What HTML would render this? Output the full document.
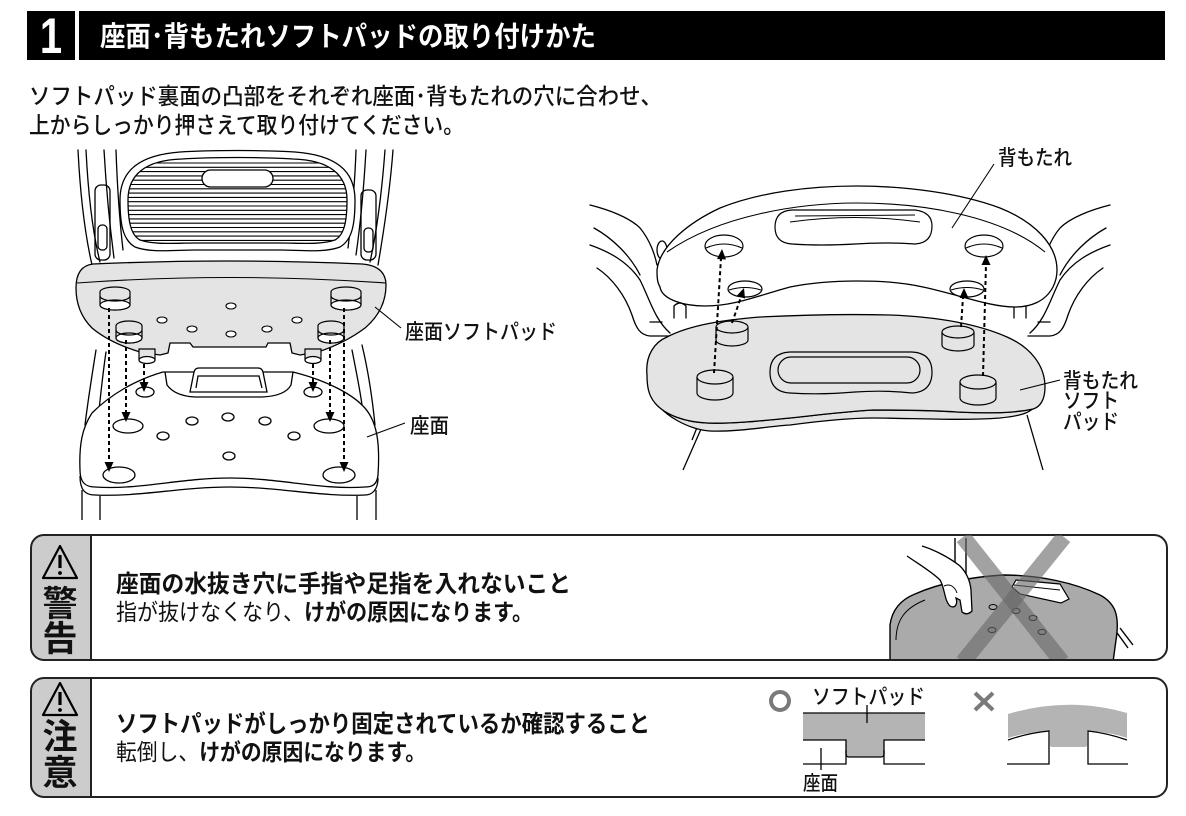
<!DOCTYPE html>
<html><head><meta charset="utf-8"><style>
html,body{margin:0;padding:0;background:#fff;}
svg{display:block;}
text{font-family:"Liberation Sans","Noto Sans CJK JP",sans-serif;}
</style></head><body>
<svg width="1186" height="816" viewBox="0 0 1186 816" xmlns="http://www.w3.org/2000/svg">
<defs>
<clipPath id="bpanel"><path d="M 128,200 C 128,175 145,160 182,159 C 212,157 263,157 293,159 C 330,160 347,175 347,200 C 347,222 344,235 335,240 C 320,245 300,243 280,243 L 195,243 C 175,243 155,245 140,240 C 131,235 128,222 128,200 Z"/></clipPath>
<clipPath id="wbox"><rect x="92" y="535" width="1075" height="124" rx="13"/></clipPath>
</defs>

<!-- header -->
<rect x="27" y="11" width="48" height="49" fill="#000"/>
<rect x="79" y="11" width="1086" height="49" fill="#000"/>
<text x="0" y="0" fill="#fff" font-size="50" font-weight="bold" text-anchor="middle" transform="translate(51,53) scale(0.8,1)" style="font-family:'Liberation Sans',sans-serif">1</text>
<text x="100" y="46" fill="#fff" font-size="28" font-weight="bold" textLength="496" lengthAdjust="spacingAndGlyphs">座面･背もたれソフトパッドの取り付けかた</text>

<!-- intro -->
<text x="29" y="104" font-size="23" font-weight="500" fill="#111" textLength="633" lengthAdjust="spacingAndGlyphs">ソフトパッド裏面の凸部をそれぞれ座面･背もたれの穴に合わせ、</text>
<text x="29" y="133" font-size="23" font-weight="500" fill="#111" textLength="435" lengthAdjust="spacingAndGlyphs">上からしっかり押さえて取り付けてください。</text>

<!-- ===== left illustration ===== -->
<g fill="none" stroke="#000" stroke-width="1.3" stroke-linecap="round">
  <path d="M 78,150 C 80,190 84,230 92,265"/>
  <path d="M 86,150 C 88,190 92,230 100,262"/>
  <path d="M 104,150 C 106,185 109,220 114,258"/>
  <path d="M 116,150 C 117,180 119,215 123,250"/>
  <rect x="95" y="185" width="15" height="75" rx="6"/>
  <rect x="98" y="225" width="9" height="25" rx="4"/>
  <path d="M 393,150 C 390,190 384,230 378,265"/>
  <path d="M 385,150 C 382,190 377,230 370,262"/>
  <path d="M 366,150 C 364,185 361,220 356,255"/>
  <path d="M 356,150 C 355,180 352,215 348,248"/>
  <rect x="361" y="190" width="15" height="70" rx="6"/>
  <rect x="364" y="228" width="9" height="24" rx="4"/>
  <path d="M 96,350 C 92,375 88,400 85,425"/>
  <path d="M 106,352 C 103,372 101,392 99,410"/>
  <path d="M 362,345 C 368,370 372,395 375,425"/>
  <path d="M 352,350 C 356,370 360,390 362,405"/>
</g>
<!-- backrest -->
<path d="M 120,200 C 120,170 140,155 180,152 C 210,150 265,150 295,152 C 335,155 355,170 355,200 C 355,225 352,240 340,247 C 325,253 300,250 280,250 L 195,250 C 175,250 150,253 135,247 C 123,240 120,225 120,200 Z" fill="#fff" stroke="#000" stroke-width="1.3"/>
<path d="M 128,200 C 128,175 145,160 182,159 C 212,157 263,157 293,159 C 330,160 347,175 347,200 C 347,222 344,235 335,240 C 320,245 300,243 280,243 L 195,243 C 175,243 155,245 140,240 C 131,235 128,222 128,200 Z" fill="#fff" stroke="#000" stroke-width="1.3"/>
<g clip-path="url(#bpanel)" stroke="#000" stroke-width="1.1">
<path d="M120,163H360M120,167.3H360M120,171.6H360M120,175.9H360M120,180.2H360M120,184.5H360M120,188.8H360M120,193.1H360M120,197.4H360M120,201.7H360M120,206H360M120,210.3H360M120,214.6H360M120,218.9H360M120,223.2H360M120,227.5H360M120,231.8H360M120,236.1H360M120,240.4H360"/>
</g>
<rect x="202" y="170" width="71" height="17" rx="8.5" fill="#fff" stroke="#000" stroke-width="1.3"/>

<!-- seat -->
<path d="M 80,476 C 80,490 85,495 95,495 C 140,497 180,487 230,487 C 280,487 320,497 365,495 C 372,495 378,490 378,478" fill="#fff" stroke="#000" stroke-width="1.3"/>
<path d="M 92,413 C 110,395 135,380 163,372 L 293,372 C 325,380 350,393 362,405 C 378,420 380,445 378,475 C 377,485 372,487 365,487 C 320,490 280,478 230,478 C 180,478 140,490 95,487 C 85,487 80,482 80,470 C 79,445 82,428 92,413 Z" fill="#fff" stroke="#000" stroke-width="1.3"/>
<g fill="none" stroke="#000" stroke-width="1.3">
  <path d="M 82,490 L 82,520 M 100,496 L 100,520 M 357,496 L 357,520 M 376,490 L 376,520"/>
  <path d="M 165,372 L 167,385 Q 175,396 195,397 L 262,397 Q 285,396 291,385 L 293,372"/>
  <path d="M 190,392 L 194,372 Q 195,368 199,368 L 258,368 Q 262,368 263,372 L 267,392 Z" fill="#fff"/>
  <path d="M 196,388 L 198,376 L 259,376 L 262,388"/>
</g>
<g fill="#fff" stroke="#000" stroke-width="1.3">
  <ellipse cx="145" cy="392" rx="9" ry="5"/><ellipse cx="313" cy="392" rx="9" ry="5"/>
  <ellipse cx="128" cy="426" rx="15" ry="7"/><ellipse cx="329" cy="426" rx="15" ry="7"/>
  <ellipse cx="119" cy="475" rx="16" ry="8"/><ellipse cx="339" cy="475" rx="16" ry="8"/>
  <ellipse cx="192" cy="421" rx="6" ry="4"/><ellipse cx="228" cy="417" rx="6" ry="4"/><ellipse cx="265" cy="421" rx="6" ry="4"/>
  <ellipse cx="163" cy="436" rx="6" ry="4"/><ellipse cx="294" cy="436" rx="6" ry="4"/><ellipse cx="229" cy="456" rx="6" ry="4"/>
</g>
<!-- seat pad -->
<path d="M 93,264 Q 230,258 362,264 Q 386,266 386,285 Q 386,310 365,328 Q 345,343 318,352 L 300,355 L 292,353 L 290,343 L 268,343 L 266,347 L 193,347 L 190,343 L 170,343 L 168,353 L 160,355 L 140,352 Q 110,343 92,328 Q 76,312 76,288 Q 76,266 93,264 Z" fill="#e4e4e4" stroke="#000" stroke-width="1.3"/>
<path d="M 77,283 Q 231,272 386,283" fill="none" stroke="#000" stroke-width="1.1"/>
<g fill="#fff" stroke="#000" stroke-width="1.1">
  <ellipse cx="231" cy="306" rx="5" ry="3"/><ellipse cx="162" cy="320" rx="5" ry="3"/><ellipse cx="297" cy="320" rx="5" ry="3"/>
  <ellipse cx="192" cy="329" rx="5" ry="3"/><ellipse cx="267" cy="329" rx="5" ry="3"/><ellipse cx="231" cy="334" rx="5" ry="3"/>
</g>
<!-- pegs (hanging) -->
<g stroke="#000" stroke-width="1.2" fill="#e4e4e4">
  <path d="M 100,292 A 15,5 0 0 1 130,292 L 130,305 A 15,5 0 0 1 100,305 Z"/><ellipse cx="115" cy="305" rx="15" ry="5" fill="#fff"/><path d="M 100,296 A 15,5 0 0 0 130,296" fill="none"/>
  <path d="M 331,292 A 15,5 0 0 1 361,292 L 361,305 A 15,5 0 0 1 331,305 Z"/><ellipse cx="346" cy="305" rx="15" ry="5" fill="#fff"/><path d="M 331,296 A 15,5 0 0 0 361,296" fill="none"/>
  <path d="M 116,326 A 13,5 0 0 1 142,326 L 142,338 A 13,5 0 0 1 116,338 Z"/><ellipse cx="129" cy="338" rx="13" ry="5" fill="#fff"/><path d="M 116,330 A 13,5 0 0 0 142,330" fill="none"/>
  <path d="M 318,326 A 13,5 0 0 1 344,326 L 344,338 A 13,5 0 0 1 318,338 Z"/><ellipse cx="331" cy="338" rx="13" ry="5" fill="#fff"/><path d="M 318,330 A 13,5 0 0 0 344,330" fill="none"/>
  <path d="M 139,349 L 139,360 A 8,3.5 0 0 0 155,360 L 155,349 Z"/><ellipse cx="147" cy="360" rx="8" ry="3.5" fill="#fff"/>
  <path d="M 305,349 L 305,360 A 8,3.5 0 0 0 321,360 L 321,349 Z"/><ellipse cx="313" cy="360" rx="8" ry="3.5" fill="#fff"/>
</g>
<!-- arrows down -->
<g stroke="#000" stroke-width="2" stroke-dasharray="4,3" fill="none">
  <path d="M 109,308 L 109,463"/><path d="M 126,340 L 126,413"/><path d="M 144,364 L 144,383"/>
  <path d="M 313,364 L 313,383"/><path d="M 330,340 L 330,413"/><path d="M 344,308 L 344,463"/>
</g>
<g fill="#000">
  <path d="M 109,472 L 104.5,462 L 113.5,462 Z"/><path d="M 126,422 L 121.5,412 L 130.5,412 Z"/><path d="M 144,392 L 139.5,382 L 148.5,382 Z"/>
  <path d="M 313,392 L 308.5,382 L 317.5,382 Z"/><path d="M 330,422 L 325.5,412 L 334.5,412 Z"/><path d="M 344,472 L 339.5,462 L 348.5,462 Z"/>
</g>
<g stroke="#000" stroke-width="1.1"><path d="M 375,307 L 401,328"/><path d="M 367,437 L 405,423"/></g>
<text x="405" y="339" font-size="21" font-weight="500" fill="#111" textLength="152" lengthAdjust="spacingAndGlyphs">座面ソフトパッド</text>
<text x="410" y="433" font-size="21" font-weight="500" fill="#111" textLength="39" lengthAdjust="spacingAndGlyphs">座面</text>

<!-- ===== right illustration ===== -->
<g id="rframe" fill="none" stroke="#000" stroke-width="1.3" stroke-linecap="round">
  <path d="M 590,205 C 610,210 630,218 640,228 C 650,240 655,255 657,265"/>
  <path d="M 590,245 C 610,252 628,262 640,280 C 650,300 655,320 670,333"/>
  <path d="M 597,268 C 612,278 625,295 632,315 C 636,328 640,335 650,336 L 672,336"/>
  <path d="M 594,228 C 612,238 630,255 640,275"/>
  <ellipse cx="662" cy="250" rx="5" ry="9" fill="#fff"/>
  <path d="M 674,318 L 674,306 Q 680,300 686,306 L 686,318"/>
  <path d="M 650,322 L 662,322"/>
</g>
<use href="#rframe" transform="translate(1700,0) scale(-1,1)"/>
<g fill="none" stroke="#000" stroke-width="1.3"><path d="M 705,420 L 683,470"/><path d="M 1027,415 L 1043,470"/><path d="M 698,425 L 692,440"/></g>
<!-- backrest -->
<path d="M 657,270 C 660,245 690,222 720,208 C 760,192 810,186 857,186 C 905,186 960,193 1000,208 C 1035,222 1057,245 1057,270 C 1057,278 1055,283 1053,287 C 1045,302 1030,307 1015,307 C 990,307 960,295 923,287 C 900,282 880,281 857,281 C 830,281 810,283 790,287 C 760,295 735,306 705,306 C 685,306 662,300 660,287 C 657,282 657,276 657,270 Z" fill="#fff" stroke="#000" stroke-width="1.3"/>
<path d="M 667,252 C 720,215 800,203 857,203 C 920,203 1000,215 1045,252" fill="none" stroke="#000" stroke-width="1.1"/>
<path d="M 792,210 L 915,210 Q 932,212 932,226 Q 932,243 915,244 Q 885,242 855,244 Q 820,246 792,244 Q 775,243 775,227 Q 775,211 792,210 Z" fill="#fff" stroke="#000" stroke-width="1.2"/>
<path d="M 790,222 Q 855,213 920,222 M 795,216 L 915,215" fill="none" stroke="#000" stroke-width="1"/>
<g fill="#fff" stroke="#000" stroke-width="1.2">
  <ellipse cx="724" cy="246" rx="19" ry="11"/><ellipse cx="984" cy="246" rx="19" ry="11"/>
  <ellipse cx="745" cy="289" rx="17" ry="8"/><ellipse cx="967" cy="289" rx="17" ry="8"/>
</g>
<g fill="none" stroke="#000" stroke-width="1"><path d="M 706,248 Q 724,240 742,248"/><path d="M 966,248 Q 984,240 1002,248"/><path d="M 729,290 Q 745,285 761,290"/><path d="M 951,290 Q 967,285 983,290"/></g>
<!-- back pad -->
<path d="M 652,395 C 660,415 690,430 710,431 C 740,432 770,426 790,425 C 820,421 850,418 873,418 C 910,418 960,421 1000,418 C 1020,416 1035,413 1038,400 L 1033,409 C 1010,414 980,413 957,412 C 930,410 900,410 873,410 C 840,412 810,416 790,418 C 760,421 730,424 707,423 C 685,422 665,415 655,403 Z" fill="#e4e4e4" stroke="#000" stroke-width="1.3"/>
<path d="M 647,375 C 645,355 655,342 667,337 C 690,325 723,320 760,317 C 800,315 850,314 890,315 C 940,317 980,325 1007,337 C 1030,347 1045,365 1045,387 C 1045,400 1040,407 1033,409 C 1010,414 980,413 957,412 C 930,410 900,410 873,410 C 840,412 810,416 790,418 C 760,421 730,424 707,423 C 685,422 665,415 655,403 C 648,395 647,385 647,375 Z" fill="#e4e4e4" stroke="#000" stroke-width="1.3"/>
<path d="M 790,352 L 912,352 Q 932,353 932,372 Q 932,392 912,393 Q 885,390 855,392 Q 820,395 790,393 Q 770,392 770,372 Q 770,353 790,352 Z" fill="#e4e4e4" stroke="#000" stroke-width="1.2"/>
<rect x="778" y="357" width="142" height="26" rx="13" fill="#e4e4e4" stroke="#000" stroke-width="1.2"/>
<!-- pegs up -->
<g stroke="#000" stroke-width="1.2" fill="#e4e4e4">
  <path d="M 716,327 L 716,340 A 16,6 0 0 0 748,340 L 748,327"/><ellipse cx="732" cy="327" rx="16" ry="6"/>
  <path d="M 942,332 L 942,345 A 16,6 0 0 0 974,345 L 974,332"/><ellipse cx="958" cy="332" rx="16" ry="6"/>
  <path d="M 697,377 L 697,393 A 18,7 0 0 0 733,393 L 733,377"/><ellipse cx="715" cy="377" rx="18" ry="7"/>
  <path d="M 960,382 L 960,398 A 18,7 0 0 0 996,398 L 996,382"/><ellipse cx="978" cy="382" rx="18" ry="7"/>
</g>
<!-- arrows up -->
<g stroke="#000" stroke-width="2" stroke-dasharray="4,3" fill="none">
  <path d="M 714,373 L 721,258"/><path d="M 732,323 L 741,297"/><path d="M 961,327 L 963,297"/><path d="M 983,376 L 986,264"/>
</g>
<g fill="#000">
  <path d="M 722,249 L 717,259 L 726,259.5 Z"/><path d="M 744,288 L 736.5,296 L 745,298.5 Z"/>
  <path d="M 964,288 L 959.5,298 L 968.5,298 Z"/><path d="M 986,255 L 981.5,265 L 990.5,265 Z"/>
</g>
<g stroke="#000" stroke-width="1.1"><path d="M 952,228 L 994,164"/><path d="M 1020,390 L 1060,380"/></g>
<text x="998" y="165" font-size="21" font-weight="500" fill="#111" textLength="74" lengthAdjust="spacingAndGlyphs">背もたれ</text>
<text x="1063" y="388" font-size="21" font-weight="500" fill="#111" textLength="75" lengthAdjust="spacingAndGlyphs">背もたれ</text>
<text x="1063" y="408" font-size="21" font-weight="500" fill="#111" textLength="56" lengthAdjust="spacingAndGlyphs">ソフト</text>
<text x="1063" y="429" font-size="21" font-weight="500" fill="#111" textLength="56" lengthAdjust="spacingAndGlyphs">パッド</text>

<!-- ===== warning box ===== -->
<path d="M 91,535 L 44,535 Q 31,535 31,548 L 31,647 Q 31,660 44,660 L 91,660 Z" fill="#cccccc"/>
<rect x="31" y="535" width="1136" height="125" rx="13" fill="none" stroke="#222" stroke-width="2"/>
<path d="M 91,535 L 91,660" stroke="#222" stroke-width="2"/>
<path d="M 60,546 L 77,578 L 43,578 Z" fill="none" stroke="#000" stroke-width="2.2" stroke-linejoin="round"/>
<rect x="58.4" y="555" width="3.2" height="13" fill="#000"/><circle cx="60" cy="573" r="1.9" fill="#000"/>
<text x="60" y="616" font-size="35" font-weight="bold" text-anchor="middle" fill="#111">警</text>
<text x="60" y="651" font-size="35" font-weight="bold" text-anchor="middle" fill="#111">告</text>
<text x="116" y="592" font-size="24" font-weight="bold" fill="#111" textLength="455" lengthAdjust="spacingAndGlyphs">座面の水抜き穴に手指や足指を入れないこと</text>
<text x="116" y="620" font-size="23" font-weight="400" fill="#111" textLength="417" lengthAdjust="spacingAndGlyphs">指が抜けなくなり、<tspan font-weight="bold">けがの原因になります。</tspan></text>
<!-- warning picture -->
<g clip-path="url(#wbox)">
  <g fill="none" stroke="#000" stroke-width="1.4"><path d="M 955,538 L 955,578"/><path d="M 966,538 L 966,577"/><path d="M 893,640 L 893,662"/><path d="M 1115,630 L 1128,648 M 1120,628 L 1133,645"/></g>
  <path d="M 890,662 L 890,625 C 892,610 900,600 915,594 C 940,583 970,577 1003,575 C 1040,575 1075,583 1100,595 C 1115,603 1120,615 1116,640 L 1113,662 Z" fill="#aaaaaa" stroke="#000" stroke-width="1.4"/>
  <path d="M 896,640 C 896,620 905,608 925,600" fill="none" stroke="#000" stroke-width="1"/>
  <path d="M 1012,587 L 1016,580 L 1060,584 L 1069,599 L 1061,603 L 1020,594 Z" fill="#fff" stroke="#000" stroke-width="1.2"/>
  <path d="M 1014,585 L 1060,590" stroke="#000" stroke-width="1"/>
  <g fill="#aaa" stroke="#000" stroke-width="1"><ellipse cx="993" cy="607" rx="4" ry="2.5"/><ellipse cx="1016" cy="611" rx="4" ry="2.5"/><ellipse cx="1033" cy="618" rx="4" ry="2.5"/><ellipse cx="992" cy="630" rx="4" ry="2.5"/><ellipse cx="1042" cy="632" rx="4" ry="2.5"/></g>
  <path d="M 907,556 C 920,565 932,572 940,580 C 945,588 944,600 950,606 C 955,609 958,604 956,598 L 960,600 L 962,612 Q 967,616 972,611 L 971,590 C 970,580 966,572 960,566 C 950,558 935,550 922,546" fill="#fff" stroke="#000" stroke-width="1.3"/>
  <path d="M 944,586 C 950,583 955,587 957,593" fill="none" stroke="#000" stroke-width="1"/>
  <g stroke="rgba(105,105,105,0.62)" stroke-width="16"><path d="M 963,537 L 1062,662"/><path d="M 1064,537 L 963,662"/></g>
</g>

<!-- ===== caution box ===== -->
<path d="M 91,678 L 44,678 Q 31,678 31,691 L 31,784 Q 31,797 44,797 L 91,797 Z" fill="#cccccc"/>
<rect x="31" y="678" width="1136" height="119" rx="13" fill="none" stroke="#222" stroke-width="2"/>
<path d="M 91,678 L 91,797" stroke="#222" stroke-width="2"/>
<path d="M 60,683 L 77,715 L 43,715 Z" fill="none" stroke="#000" stroke-width="2.2" stroke-linejoin="round"/>
<rect x="58.4" y="692" width="3.2" height="13" fill="#000"/><circle cx="60" cy="710" r="1.9" fill="#000"/>
<text x="60" y="749" font-size="35" font-weight="bold" text-anchor="middle" fill="#111">注</text>
<text x="60" y="785" font-size="35" font-weight="bold" text-anchor="middle" fill="#111">意</text>
<text x="116" y="732" font-size="24" font-weight="bold" fill="#111" textLength="534" lengthAdjust="spacingAndGlyphs">ソフトパッドがしっかり固定されているか確認すること</text>
<text x="116" y="760" font-size="23" font-weight="400" fill="#111" textLength="310" lengthAdjust="spacingAndGlyphs">転倒し、<tspan font-weight="bold">けがの原因になります。</tspan></text>
<!-- good / bad diagrams -->
<circle cx="780" cy="701" r="9" fill="none" stroke="#7a7a7a" stroke-width="4"/>
<text x="812" y="704" font-size="21" font-weight="500" fill="#111" textLength="113" lengthAdjust="spacingAndGlyphs">ソフトパッド</text>
<path d="M 803,713 L 925,713 L 925,740 L 884,740 L 884,754 Q 884,757 881,757 L 849,757 Q 846,757 846,754 L 846,740 L 803,740 Z" fill="#b4b4b4"/>
<g fill="none" stroke="#000" stroke-width="1.3">
  <path d="M 803,713 L 925,713"/>
  <path d="M 803,740 L 846,740 L 846,764 L 803,764"/>
  <path d="M 925,740 L 884,740 L 884,764 L 925,764"/>
  <path d="M 846,750 L 846,754 Q 846,757 849,757 L 881,757 Q 884,757 884,754 L 884,750"/>
  <path d="M 867,705 L 867,723"/><path d="M 821,748 L 821,770"/>
</g>
<text x="803" y="790" font-size="20" font-weight="500" fill="#111" textLength="35" lengthAdjust="spacingAndGlyphs">座面</text>
<g stroke="#7a7a7a" stroke-width="4"><path d="M 975,693 L 993,710"/><path d="M 993,693 L 975,710"/></g>
<path d="M 1008,714 Q 1068,696 1127,713 L 1127,738 Q 1110,732 1087,731 L 1087,745 Q 1087,747 1085,747 L 1052,747 Q 1050,747 1050,745 L 1050,731 Q 1027,732 1008,738 Z" fill="#b4b4b4"/>
<g fill="none" stroke="#000" stroke-width="1.3">
  <path d="M 1008,740 Q 1028,733 1049,731 L 1049,764 L 1007,764"/>
  <path d="M 1127,740 Q 1107,733 1088,731 L 1088,764 L 1128,764"/>
</g>
</svg>
</body></html>
